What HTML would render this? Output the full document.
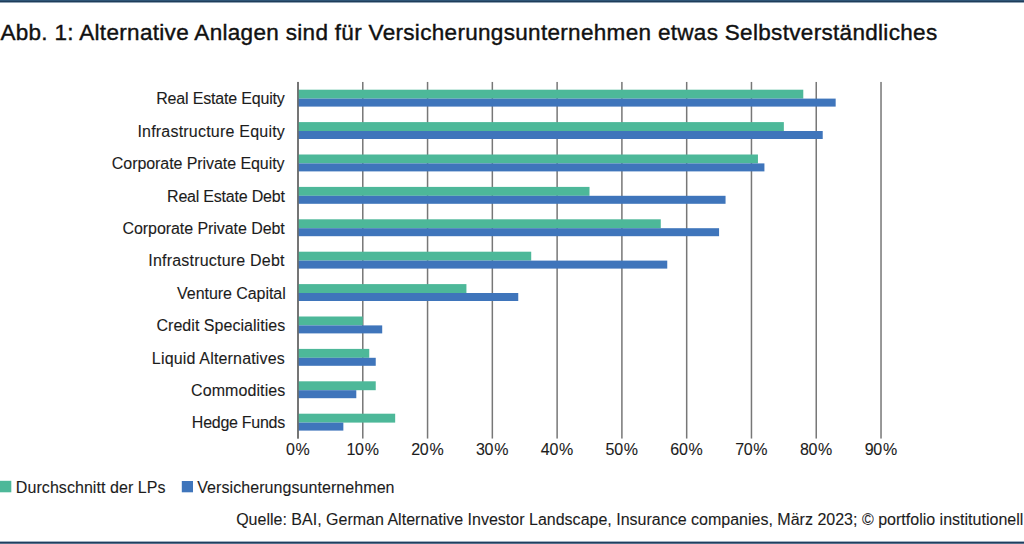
<!DOCTYPE html>
<html><head><meta charset="utf-8"><style>
html,body{margin:0;padding:0;width:1024px;height:544px;overflow:hidden;background:#fff;}
body{position:relative;font-family:"Liberation Sans",sans-serif;}
</style></head><body>
<svg width="1024" height="544" style="position:absolute;left:0;top:0"><rect x="0" y="0" width="1024" height="1" fill="#2e5577"/><rect x="0" y="1" width="1024" height="1" fill="#1f3d5a"/><rect x="0" y="2" width="1024" height="1" fill="#8fa2b4"/><rect x="0" y="541" width="1024" height="1" fill="#9fb1c2"/><rect x="0" y="542" width="1024" height="1" fill="#1f3e5f"/><rect x="0" y="543" width="1024" height="1" fill="#566f8a"/><rect x="297.25" y="81.95" width="1.5" height="356.60" fill="#777777"/><rect x="362.03" y="81.95" width="1.5" height="356.60" fill="#777777"/><rect x="426.81" y="81.95" width="1.5" height="356.60" fill="#777777"/><rect x="491.59" y="81.95" width="1.5" height="356.60" fill="#777777"/><rect x="556.37" y="81.95" width="1.5" height="356.60" fill="#777777"/><rect x="621.15" y="81.95" width="1.5" height="356.60" fill="#777777"/><rect x="685.93" y="81.95" width="1.5" height="356.60" fill="#777777"/><rect x="750.71" y="81.95" width="1.5" height="356.60" fill="#777777"/><rect x="815.49" y="81.95" width="1.5" height="356.60" fill="#777777"/><rect x="880.27" y="81.95" width="1.5" height="356.60" fill="#777777"/><rect x="298.00" y="89.70" width="505.28" height="8.9" fill="#4db899"/><rect x="298.00" y="98.60" width="537.67" height="8.0" fill="#3f75bb"/><rect x="298.00" y="122.10" width="485.85" height="8.9" fill="#4db899"/><rect x="298.00" y="131.00" width="524.72" height="8.0" fill="#3f75bb"/><rect x="298.00" y="154.50" width="459.94" height="8.9" fill="#4db899"/><rect x="298.00" y="163.40" width="466.42" height="8.0" fill="#3f75bb"/><rect x="298.00" y="186.90" width="291.51" height="8.9" fill="#4db899"/><rect x="298.00" y="195.80" width="427.55" height="8.0" fill="#3f75bb"/><rect x="298.00" y="219.30" width="362.77" height="8.9" fill="#4db899"/><rect x="298.00" y="228.20" width="421.07" height="8.0" fill="#3f75bb"/><rect x="298.00" y="251.70" width="233.21" height="8.9" fill="#4db899"/><rect x="298.00" y="260.60" width="369.25" height="8.0" fill="#3f75bb"/><rect x="298.00" y="284.10" width="168.43" height="8.9" fill="#4db899"/><rect x="298.00" y="293.00" width="220.25" height="8.0" fill="#3f75bb"/><rect x="298.00" y="316.50" width="64.78" height="8.9" fill="#4db899"/><rect x="298.00" y="325.40" width="84.21" height="8.0" fill="#3f75bb"/><rect x="298.00" y="348.90" width="71.26" height="8.9" fill="#4db899"/><rect x="298.00" y="357.80" width="77.74" height="8.0" fill="#3f75bb"/><rect x="298.00" y="381.30" width="77.74" height="8.9" fill="#4db899"/><rect x="298.00" y="390.20" width="58.30" height="8.0" fill="#3f75bb"/><rect x="298.00" y="413.70" width="97.17" height="8.9" fill="#4db899"/><rect x="298.00" y="422.60" width="45.35" height="8.0" fill="#3f75bb"/><rect x="297.25" y="81.95" width="1.5" height="356.60" fill="#6a6a6a"/><rect x="0" y="480.8" width="11.3" height="11.5" fill="#4db899"/><rect x="181.8" y="481" width="11.2" height="11.3" fill="#3f75bb"/></svg>
<div id="title" style="position:absolute;left:0.38px;top:22.00px;font-size:22.5px;line-height:22.5px;white-space:nowrap;color:#111;letter-spacing:0.316px;-webkit-text-stroke:0.4px #111">Abb. 1: Alternative Anlagen sind für Versicherungsunternehmen etwas Selbstverständliches</div><div id="lab0" style="position:absolute;left:156.17px;top:91.00px;font-size:16.0px;line-height:16.0px;white-space:nowrap;color:#1c1c1c;letter-spacing:-0.174px;-webkit-text-stroke:0.1px #1c1c1c">Real Estate Equity</div><div id="lab1" style="position:absolute;left:137.38px;top:124.00px;font-size:16.0px;line-height:16.0px;white-space:nowrap;color:#1c1c1c;letter-spacing:0.213px;-webkit-text-stroke:0.1px #1c1c1c">Infrastructure Equity</div><div id="lab2" style="position:absolute;left:111.85px;top:156.00px;font-size:16.0px;line-height:16.0px;white-space:nowrap;color:#1c1c1c;letter-spacing:-0.071px;-webkit-text-stroke:0.1px #1c1c1c">Corporate Private Equity</div><div id="lab3" style="position:absolute;left:167.05px;top:189.00px;font-size:16.0px;line-height:16.0px;white-space:nowrap;color:#1c1c1c;letter-spacing:-0.210px;-webkit-text-stroke:0.1px #1c1c1c">Real Estate Debt</div><div id="lab4" style="position:absolute;left:122.46px;top:221.00px;font-size:16.0px;line-height:16.0px;white-space:nowrap;color:#1c1c1c;letter-spacing:-0.062px;-webkit-text-stroke:0.1px #1c1c1c">Corporate Private Debt</div><div id="lab5" style="position:absolute;left:148.31px;top:253.00px;font-size:16.0px;line-height:16.0px;white-space:nowrap;color:#1c1c1c;letter-spacing:0.206px;-webkit-text-stroke:0.1px #1c1c1c">Infrastructure Debt</div><div id="lab6" style="position:absolute;left:177.12px;top:286.00px;font-size:16.0px;line-height:16.0px;white-space:nowrap;color:#1c1c1c;letter-spacing:-0.055px;-webkit-text-stroke:0.1px #1c1c1c">Venture Capital</div><div id="lab7" style="position:absolute;left:156.46px;top:318.00px;font-size:16.0px;line-height:16.0px;white-space:nowrap;color:#1c1c1c;letter-spacing:0.038px;-webkit-text-stroke:0.1px #1c1c1c">Credit Specialities</div><div id="lab8" style="position:absolute;left:151.87px;top:351.00px;font-size:16.0px;line-height:16.0px;white-space:nowrap;color:#1c1c1c;letter-spacing:0.173px;-webkit-text-stroke:0.1px #1c1c1c">Liquid Alternatives</div><div id="lab9" style="position:absolute;left:191.04px;top:383.00px;font-size:16.0px;line-height:16.0px;white-space:nowrap;color:#1c1c1c;letter-spacing:0.090px;-webkit-text-stroke:0.1px #1c1c1c">Commodities</div><div id="lab10" style="position:absolute;left:191.85px;top:415.00px;font-size:16.0px;line-height:16.0px;white-space:nowrap;color:#1c1c1c;letter-spacing:-0.266px;-webkit-text-stroke:0.1px #1c1c1c">Hedge Funds</div><div id="leg1" style="position:absolute;left:15.87px;top:480.00px;font-size:16.0px;line-height:16.0px;white-space:nowrap;color:#1c1c1c;letter-spacing:0.059px;-webkit-text-stroke:0.1px #1c1c1c">Durchschnitt der LPs</div><div id="leg2" style="position:absolute;left:197.26px;top:480.00px;font-size:16.0px;line-height:16.0px;white-space:nowrap;color:#1c1c1c;letter-spacing:0.068px;-webkit-text-stroke:0.1px #1c1c1c">Versicherungsunternehmen</div><div id="src" style="position:absolute;left:236.14px;top:512.00px;font-size:16.0px;line-height:16.0px;white-space:nowrap;color:#1c1c1c;letter-spacing:0.007px;-webkit-text-stroke:0.1px #1c1c1c">Quelle: BAI, German Alternative Investor Landscape, Insurance companies, März 2023; © portfolio institutionell</div><div style="position:absolute;left:197.75px;width:200px;text-align:center;top:442.00px;font-size:16px;line-height:16px;white-space:nowrap;color:#1c1c1c;letter-spacing:-0.300px;-webkit-text-stroke:0.1px #1c1c1c">0<span style="margin-left:1.00px">%</span></div><div style="position:absolute;left:262.53px;width:200px;text-align:center;top:442.00px;font-size:16px;line-height:16px;white-space:nowrap;color:#1c1c1c;letter-spacing:-0.300px;-webkit-text-stroke:0.1px #1c1c1c">10<span style="margin-left:1.00px">%</span></div><div style="position:absolute;left:327.31px;width:200px;text-align:center;top:442.00px;font-size:16px;line-height:16px;white-space:nowrap;color:#1c1c1c;letter-spacing:-0.300px;-webkit-text-stroke:0.1px #1c1c1c">20<span style="margin-left:1.00px">%</span></div><div style="position:absolute;left:392.09px;width:200px;text-align:center;top:442.00px;font-size:16px;line-height:16px;white-space:nowrap;color:#1c1c1c;letter-spacing:-0.300px;-webkit-text-stroke:0.1px #1c1c1c">30<span style="margin-left:1.00px">%</span></div><div style="position:absolute;left:456.87px;width:200px;text-align:center;top:442.00px;font-size:16px;line-height:16px;white-space:nowrap;color:#1c1c1c;letter-spacing:-0.300px;-webkit-text-stroke:0.1px #1c1c1c">40<span style="margin-left:1.00px">%</span></div><div style="position:absolute;left:521.65px;width:200px;text-align:center;top:442.00px;font-size:16px;line-height:16px;white-space:nowrap;color:#1c1c1c;letter-spacing:-0.300px;-webkit-text-stroke:0.1px #1c1c1c">50<span style="margin-left:1.00px">%</span></div><div style="position:absolute;left:586.43px;width:200px;text-align:center;top:442.00px;font-size:16px;line-height:16px;white-space:nowrap;color:#1c1c1c;letter-spacing:-0.300px;-webkit-text-stroke:0.1px #1c1c1c">60<span style="margin-left:1.00px">%</span></div><div style="position:absolute;left:651.21px;width:200px;text-align:center;top:442.00px;font-size:16px;line-height:16px;white-space:nowrap;color:#1c1c1c;letter-spacing:-0.300px;-webkit-text-stroke:0.1px #1c1c1c">70<span style="margin-left:1.00px">%</span></div><div style="position:absolute;left:715.99px;width:200px;text-align:center;top:442.00px;font-size:16px;line-height:16px;white-space:nowrap;color:#1c1c1c;letter-spacing:-0.300px;-webkit-text-stroke:0.1px #1c1c1c">80<span style="margin-left:1.00px">%</span></div><div style="position:absolute;left:780.77px;width:200px;text-align:center;top:442.00px;font-size:16px;line-height:16px;white-space:nowrap;color:#1c1c1c;letter-spacing:-0.300px;-webkit-text-stroke:0.1px #1c1c1c">90<span style="margin-left:1.00px">%</span></div>
</body></html>
